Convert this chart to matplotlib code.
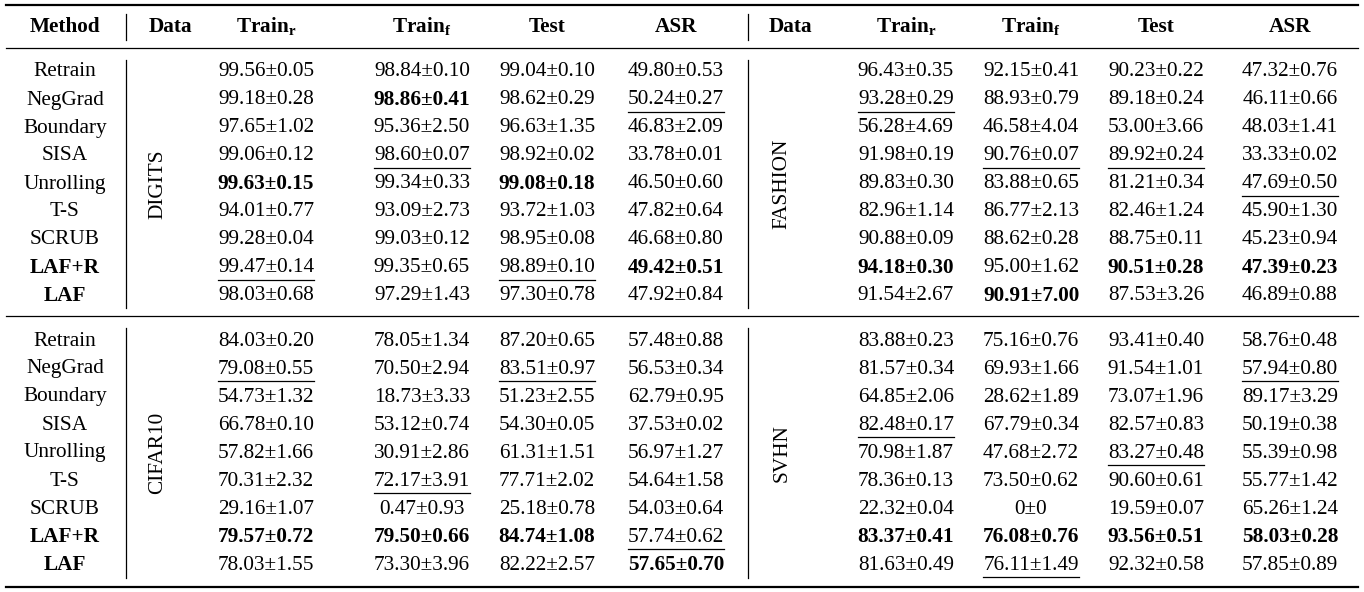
import matplotlib
matplotlib.use("Agg")
import matplotlib.pyplot as plt

plt.rcParams['font.family'] = ['Liberation Serif', 'DejaVu Serif']
plt.rcParams['mathtext.fontset'] = 'custom'
plt.rcParams['mathtext.rm'] = 'Liberation Serif'
plt.rcParams['mathtext.bf'] = 'Liberation Serif:bold'

methods = ["Retrain", "NegGrad", "Boundary", "SISA", "Unrolling", "T-S", "SCRUB", "LAF+R", "LAF"]
bold_methods = ["LAF+R", "LAF"]
metrics = [r"Train$_\mathbf{r}$", r"Train$_\mathbf{f}$", "Test", "ASR"]

# each cell: "value|flag" where flag b=bold, u=underline
digits = [
    ["99.56±0.05", "98.84±0.10", "99.04±0.10", "49.80±0.53"],
    ["99.18±0.28", "98.86±0.41|b", "98.62±0.29", "50.24±0.27|u"],
    ["97.65±1.02", "95.36±2.50", "96.63±1.35", "46.83±2.09"],
    ["99.06±0.12", "98.60±0.07|u", "98.92±0.02", "33.78±0.01"],
    ["99.63±0.15|b", "99.34±0.33", "99.08±0.18|b", "46.50±0.60"],
    ["94.01±0.77", "93.09±2.73", "93.72±1.03", "47.82±0.64"],
    ["99.28±0.04", "99.03±0.12", "98.95±0.08", "46.68±0.80"],
    ["99.47±0.14|u", "99.35±0.65", "98.89±0.10|u", "49.42±0.51|b"],
    ["98.03±0.68", "97.29±1.43", "97.30±0.78", "47.92±0.84"],
]
fashion = [
    ["96.43±0.35", "92.15±0.41", "90.23±0.22", "47.32±0.76"],
    ["93.28±0.29|u", "88.93±0.79", "89.18±0.24", "46.11±0.66"],
    ["56.28±4.69", "46.58±4.04", "53.00±3.66", "48.03±1.41"],
    ["91.98±0.19", "90.76±0.07|u", "89.92±0.24|u", "33.33±0.02"],
    ["89.83±0.30", "83.88±0.65", "81.21±0.34", "47.69±0.50|u"],
    ["82.96±1.14", "86.77±2.13", "82.46±1.24", "45.90±1.30"],
    ["90.88±0.09", "88.62±0.28", "88.75±0.11", "45.23±0.94"],
    ["94.18±0.30|b", "95.00±1.62", "90.51±0.28|b", "47.39±0.23|b"],
    ["91.54±2.67", "90.91±7.00|b", "87.53±3.26", "46.89±0.88"],
]
cifar10 = [
    ["84.03±0.20", "78.05±1.34", "87.20±0.65", "57.48±0.88"],
    ["79.08±0.55|u", "70.50±2.94", "83.51±0.97|u", "56.53±0.34"],
    ["54.73±1.32", "18.73±3.33", "51.23±2.55", "62.79±0.95"],
    ["66.78±0.10", "53.12±0.74", "54.30±0.05", "37.53±0.02"],
    ["57.82±1.66", "30.91±2.86", "61.31±1.51", "56.97±1.27"],
    ["70.31±2.32", "72.17±3.91|u", "77.71±2.02", "54.64±1.58"],
    ["29.16±1.07", "0.47±0.93", "25.18±0.78", "54.03±0.64"],
    ["79.57±0.72|b", "79.50±0.66|b", "84.74±1.08|b", "57.74±0.62|u"],
    ["78.03±1.55", "73.30±3.96", "82.22±2.57", "57.65±0.70|b"],
]
svhn = [
    ["83.88±0.23", "75.16±0.76", "93.41±0.40", "58.76±0.48"],
    ["81.57±0.34", "69.93±1.66", "91.54±1.01", "57.94±0.80|u"],
    ["64.85±2.06", "28.62±1.89", "73.07±1.96", "89.17±3.29"],
    ["82.48±0.17|u", "67.79±0.34", "82.57±0.83", "50.19±0.38"],
    ["70.98±1.87", "47.68±2.72", "83.27±0.48|u", "55.39±0.98"],
    ["78.36±0.13", "73.50±0.62", "90.60±0.61", "55.77±1.42"],
    ["22.32±0.04", "0±0", "19.59±0.07", "65.26±1.24"],
    ["83.37±0.41|b", "76.08±0.76|b", "93.56±0.51|b", "58.03±0.28|b"],
    ["81.63±0.49", "76.11±1.49|u", "92.32±0.58", "57.85±0.89"],
]

W, H = 1364, 592
fig = plt.figure(figsize=(W / 100, H / 100), dpi=100)
ax = fig.add_axes([0, 0, 1, 1])
ax.set_xlim(0, W)
ax.set_ylim(H, 0)
ax.axis('off')

fs = 15.3
col_left = [266, 422, 547, 676]
col_right = [906, 1031, 1156, 1290]
row_y0 = [72, 341]
dy = 28

# rules
ax.plot([6, 1358], [5, 5], color='black', lw=1.6)
ax.plot([6, 1358], [48, 48], color='black', lw=0.9)
ax.plot([6, 1358], [316, 316], color='black', lw=0.9)
ax.plot([6, 1358], [587, 587], color='black', lw=1.6)
for x in (126, 748):
    ax.plot([x, x], [14, 40], color='black', lw=0.9)
    ax.plot([x, x], [60, 308], color='black', lw=0.9)
    ax.plot([x, x], [328, 578], color='black', lw=0.9)

# header
hy = 27
ax.text(65, hy, "Method", ha='center', va='center', fontsize=fs, fontweight='bold')
ax.text(170, hy, "Data", ha='center', va='center', fontsize=fs, fontweight='bold')
ax.text(790, hy, "Data", ha='center', va='center', fontsize=fs, fontweight='bold')
for cols in (col_left, col_right):
    for x, m in zip(cols, metrics):
        ax.text(x, hy, m, ha='center', va='center', fontsize=fs, fontweight='bold')

underlined = []
blocks = [(0, digits, fashion, "DIGITS", "FASHION"), (1, cifar10, svhn, "CIFAR10", "SVHN")]
for bi, left, right, ln, rn in blocks:
    y0 = row_y0[bi]
    ymid = y0 + 4 * dy
    ax.text(158, ymid, ln, ha='center', va='center', rotation=90, fontsize=fs)
    ax.text(782, ymid, rn, ha='center', va='center', rotation=90, fontsize=fs)
    for i, m in enumerate(methods):
        y = y0 + i * dy
        ax.text(65, y, m, ha='center', va='center', fontsize=fs,
                fontweight='bold' if m in bold_methods else 'normal')
        for cols, data in ((col_left, left), (col_right, right)):
            for x, cell in zip(cols, data[i]):
                val, _, flag = cell.partition('|')
                t = ax.text(x, y, val, ha='center', va='center', fontsize=fs,
                            fontweight='bold' if flag == 'b' else 'normal')
                if flag == 'u':
                    underlined.append((t, y))

fig.canvas.draw()
r = fig.canvas.get_renderer()
for t, y in underlined:
    bb = t.get_window_extent(r)
    ax.plot([bb.x0, bb.x1], [y + 12, y + 12], color='black', lw=0.9)

fig.savefig("out.png", dpi=100)
